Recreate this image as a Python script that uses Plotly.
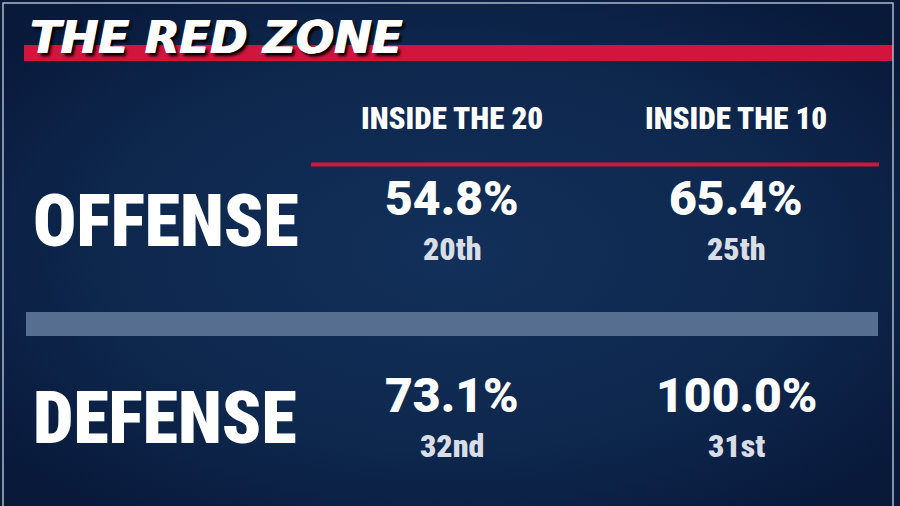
import urllib.parse
import plotly.graph_objects as go

# ---- data ----
title_text = "THE RED ZONE"
columns = ["INSIDE THE 20", "INSIDE THE 10"]
rows = ["OFFENSE", "DEFENSE"]
offense_pct = [54.8, 65.4]
offense_rank = ["20th", "25th"]
defense_pct = [73.1, 100.0]
defense_rank = ["32nd", "31st"]

values = {"OFFENSE": offense_pct, "DEFENSE": defense_pct}
ranks = {"OFFENSE": offense_rank, "DEFENSE": defense_rank}

# ---- style ----
W, H = 900, 506
RED = "#d3143c"
BAND = "#566e8f"
RANK_C = "#d9dee6"
FONT = "Roboto, Open Sans, sans-serif"


def cond(t, stretch="condensed"):
    return f"<span style='font-stretch:{stretch}'>{t}</span>"


def px_x(p):
    return p / W


def px_y(p):
    return 1 - p / H


fig = go.Figure()

# invisible trace establishing the categorical grid
fig.add_trace(go.Scatter(
    x=[c for r in rows for c in columns],
    y=[r for r in rows for c in columns],
    mode="markers", marker=dict(opacity=0), hoverinfo="skip", showlegend=False,
))

annotations = []
# column headers
for c in columns:
    annotations.append(dict(
        x=c, xref="x", y=px_y(119), yref="paper", text=cond(c), showarrow=False,
        font=dict(family=FONT, size=31, color="white", weight=900),
        xanchor="center", yanchor="middle"))

# row labels and cells
for r in rows:
    annotations.append(dict(
        x=px_x(31), xref="paper", y=r, yref="y", text=cond(r), showarrow=False,
        font=dict(family=FONT, size=72, color="white", weight=900),
        xanchor="left", yanchor="middle"))
    for i, c in enumerate(columns):
        annotations.append(dict(
            x=c, xref="x", y=r, yref="y", yshift=23,
            text=cond(f"{values[r][i]:.1f}%", "normal"), showarrow=False,
            font=dict(family=FONT, size=48, color="white", weight=900),
            xanchor="center", yanchor="middle"))
        annotations.append(dict(
            x=c, xref="x", y=r, yref="y", yshift=-28,
            text=cond(ranks[r][i], "semi-condensed"), showarrow=False,
            font=dict(family=FONT, size=32, color=RANK_C, weight=900),
            xanchor="center", yanchor="middle"))

# title
annotations.append(dict(
    x=px_x(28), xref="paper", y=px_y(37), yref="paper", text=title_text,
    showarrow=False, xanchor="left", yanchor="middle",
    font=dict(family="DejaVu Sans", size=45, color="white", weight="bold",
              style="italic",
              shadow="0.9px 0px 0px #ffffff, -0.6px 0px 0px #ffffff, 3px 3px 3px #000000")))

shapes = [
    # frame
    dict(type="rect", xref="paper", yref="paper", x0=px_x(3), x1=px_x(893),
         y0=px_y(510), y1=px_y(3), line=dict(color="#aeb6c4", width=1.5),
         fillcolor="rgba(0,0,0,0)", layer="above"),
    # title red bar
    dict(type="rect", xref="paper", yref="paper", x0=px_x(24), x1=px_x(893),
         y0=px_y(61), y1=px_y(45), line=dict(width=0), fillcolor=RED, layer="below"),
    # red rule under headers
    dict(type="line", xref="paper", yref="paper", x0=px_x(311), x1=px_x(879),
         y0=px_y(164.5), y1=px_y(164.5), line=dict(color=RED, width=4)),
    # separator band
    dict(type="rect", xref="paper", yref="paper", x0=px_x(26), x1=px_x(878),
         y0=px_y(336), y1=px_y(312), line=dict(width=0), fillcolor=BAND, layer="below"),
]

bg_svg = (
    "<svg xmlns='http://www.w3.org/2000/svg' width='900' height='506' viewBox='0 0 900 506' preserveAspectRatio='none'>"
    "<defs><radialGradient id='g' cx='50%' cy='50%' r='65%'>"
    "<stop offset='0' stop-color='#12305a'/><stop offset='0.6' stop-color='#0e274d'/>"
    "<stop offset='1' stop-color='#08193a'/></radialGradient></defs>"
    "<rect width='900' height='506' fill='url(#g)'/></svg>"
)
bg_src = "data:image/svg+xml;charset=utf-8," + urllib.parse.quote(bg_svg)

# column pixel centers 452, 736 -> spacing 284; row pixel centers 221, 418 -> 197
xc0, xs = 452.0, 284.0
yc0, ys = 221.0, 197.0
fig.update_layout(
    width=W, height=H, margin=dict(l=0, r=0, t=0, b=0),
    paper_bgcolor="#0d2549", plot_bgcolor="rgba(0,0,0,0)",
    images=[dict(source=bg_src, xref="paper", yref="paper", x=0, y=1, sizex=1, sizey=1,
                 sizing="stretch", xanchor="left", yanchor="top", layer="below")],
    xaxis=dict(type="category", categoryarray=columns, categoryorder="array",
               range=[-xc0 / xs, (W - xc0) / xs], visible=False, fixedrange=True),
    yaxis=dict(type="category", categoryarray=rows, categoryorder="array",
               range=[(H - yc0) / ys, -yc0 / ys], visible=False, fixedrange=True),
    annotations=annotations, shapes=shapes, showlegend=False,
)

fig.write_html("out.html", config={"displayModeBar": False},
               post_script="document.body.style.margin='0px';")
